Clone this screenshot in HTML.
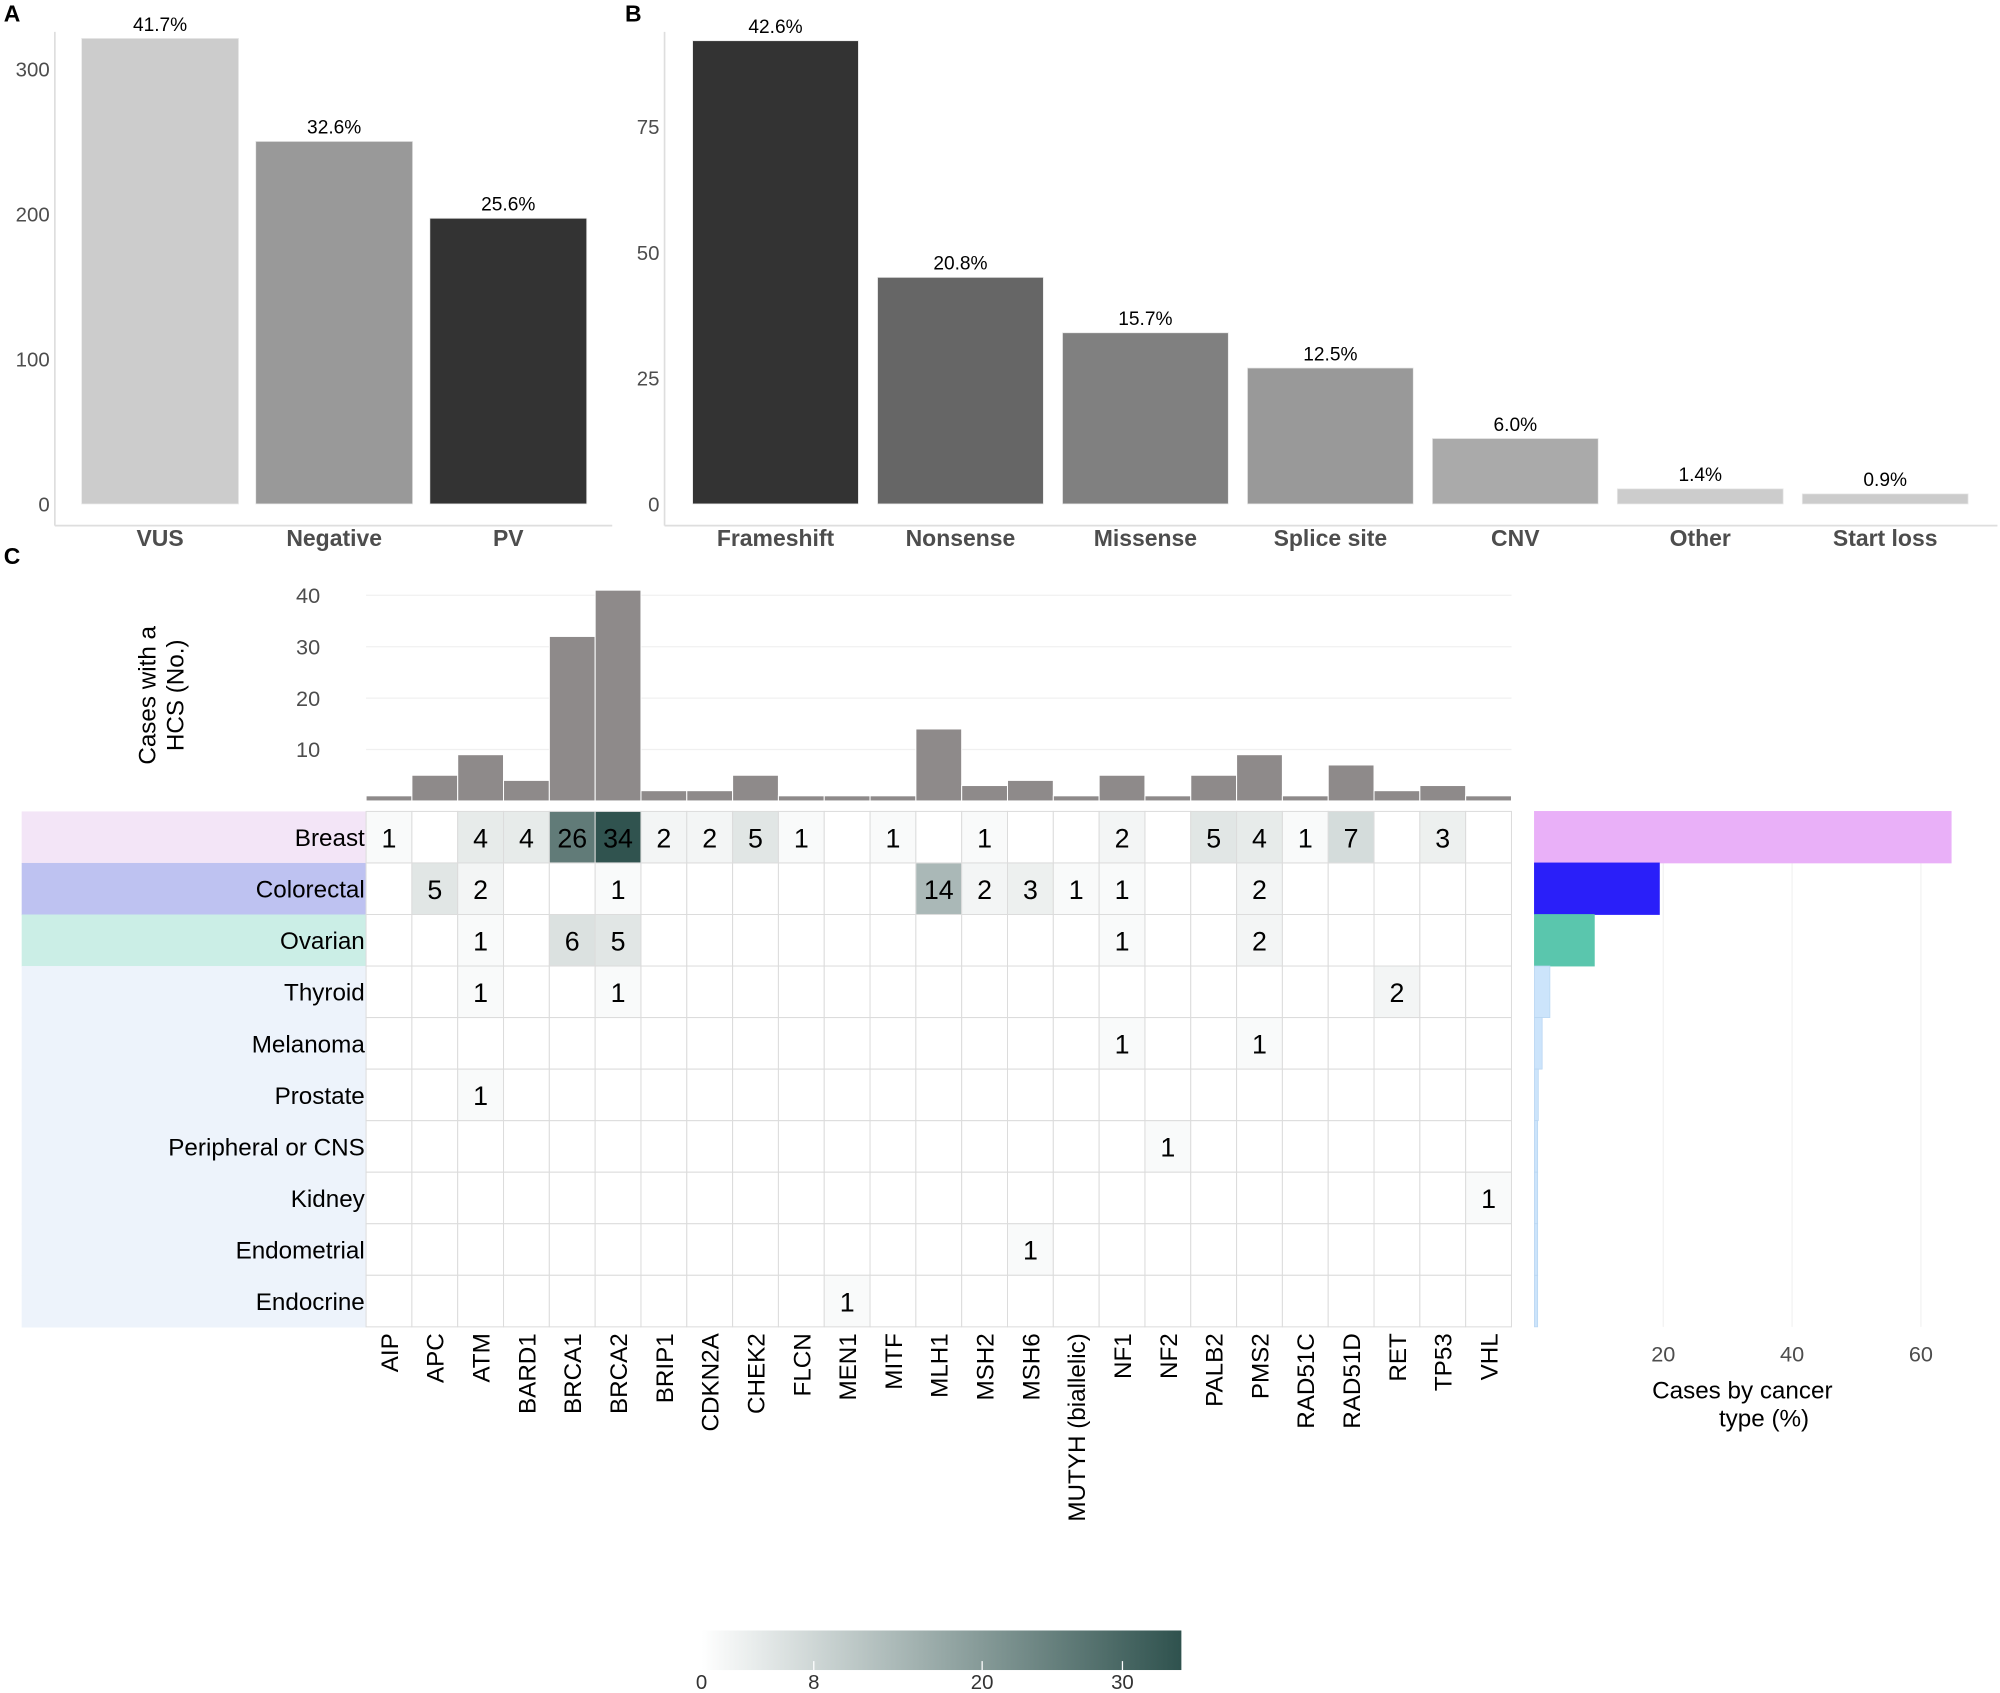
<!DOCTYPE html>
<html><head><meta charset="utf-8">
<style>
html,body{margin:0;padding:0;background:#fff;}
svg{display:block;font-family:"Liberation Sans",Arial,sans-serif;}
</style></head>
<body>
<svg id="fig" width="2000" height="1693" viewBox="0 0 1568 1327" preserveAspectRatio="none" xmlns="http://www.w3.org/2000/svg">
<defs>
<linearGradient id="cgrad" x1="0" x2="1" y1="0" y2="0">
<stop offset="0" stop-color="#ffffff"/><stop offset="1" stop-color="#2f524e"/>
</linearGradient>
</defs>
<g id="root"></g>
</svg>
<script>
// Panel A data
const aCats = ["VUS","Negative","PV"];
const aVals = [321, 250, 197];
const aPct = ["41.7%","32.6%","25.6%"];
const aTicks = [0,100,200,300];
// Panel B data
const bCats = ["Frameshift","Nonsense","Missense","Splice site","CNV","Other","Start loss"];
const bVals = [92, 45, 34, 27, 13, 3, 2];
const bPct = ["42.6%","20.8%","15.7%","12.5%","6.0%","1.4%","0.9%"];
const bTicks = [0,25,50,75];
// Panel C data
const genes = ["AIP","APC","ATM","BARD1","BRCA1","BRCA2","BRIP1","CDKN2A","CHEK2","FLCN","MEN1","MITF","MLH1","MSH2","MSH6","MUTYH (biallelic)","NF1","NF2","PALB2","PMS2","RAD51C","RAD51D","RET","TP53","VHL"];
const geneTotals = [1,5,9,4,32,41,2,2,5,1,1,1,14,3,4,1,5,1,5,9,1,7,2,3,1];
const topTicks = [10,20,30,40];
const cancers = ["Breast","Colorectal","Ovarian","Thyroid","Melanoma","Prostate","Peripheral or CNS","Kidney","Endometrial","Endocrine"];
const cancerPct = [64.7,19.4,9.3,2.4,1.2,0.6,0.5,0.5,0.5,0.5];
const pctTicks = [20,40,60];
const heat = [
 [1,0,4,4,26,34,2,2,5,1,0,1,0,1,0,0,2,0,5,4,1,7,0,3,0],
 [0,5,2,0,0,1,0,0,0,0,0,0,14,2,3,1,1,0,0,2,0,0,0,0,0],
 [0,0,1,0,6,5,0,0,0,0,0,0,0,0,0,0,1,0,0,2,0,0,0,0,0],
 [0,0,1,0,0,1,0,0,0,0,0,0,0,0,0,0,0,0,0,0,0,0,2,0,0],
 [0,0,0,0,0,0,0,0,0,0,0,0,0,0,0,0,1,0,0,1,0,0,0,0,0],
 [0,0,1,0,0,0,0,0,0,0,0,0,0,0,0,0,0,0,0,0,0,0,0,0,0],
 [0,0,0,0,0,0,0,0,0,0,0,0,0,0,0,0,0,1,0,0,0,0,0,0,0],
 [0,0,0,0,0,0,0,0,0,0,0,0,0,0,0,0,0,0,0,0,0,0,0,0,1],
 [0,0,0,0,0,0,0,0,0,0,0,0,0,0,1,0,0,0,0,0,0,0,0,0,0],
 [0,0,0,0,0,0,0,0,0,0,1,0,0,0,0,0,0,0,0,0,0,0,0,0,0]
];
const legendTicks = [0,8,20,30];

const NS="http://www.w3.org/2000/svg";
const root=document.getElementById('root');
function el(tag,attrs,parent,text){const e=document.createElementNS(NS,tag);for(const k in attrs)e.setAttribute(k,attrs[k]);if(text!==undefined)e.textContent=text;(parent||root).appendChild(e);return e;}

let t;
t=el('text',{x:3,y:17,'font-size':18,'font-weight':'bold'},root,'A');

t=el('text',{x:490,y:17,'font-size':18,'font-weight':'bold'},root,'B');

t=el('text',{x:3,y:442,'font-size':18,'font-weight':'bold'},root,'C');


function barPanel(name,cats,vals,pct,ticks,axX,axR,y0,pxPerUnit,firstX,step,bw,colors){
  const g=el('g',{});
  
  const ys=v=>y0-v*pxPerUnit;
  el('line',{x1:axX,y1:y0-370,x2:axX,y2:412,stroke:'#dedede','stroke-width':1.3},g);
  el('line',{x1:axX,y1:412,x2:axR,y2:412,stroke:'#dedede','stroke-width':1.3},g);
  ticks.forEach(v=>{
    const tx=el('text',{x:axX-4,y:ys(v)+6,'font-size':16,'text-anchor':'end',fill:'#4d4d4d'},g,String(v));
    
  });
  cats.forEach((c,i)=>{
    const x=firstX+i*step;
    const r=el('rect',{x:x,y:ys(vals[i]),width:bw,height:vals[i]*pxPerUnit,fill:colors[i],stroke:'#e8e8e8','stroke-width':0.6},g);
    
    const p=el('text',{x:x+bw/2,y:ys(vals[i])-6,'font-size':15,'text-anchor':'middle',fill:'#000'},g,pct[i]);
    
    const l=el('text',{x:x+bw/2,y:428,'font-size':18,'font-weight':'bold','text-anchor':'middle',fill:'#4d4d4d'},g,c);
    
  });
}
barPanel('panel-a-chart',aCats,aVals,aPct,aTicks,43,480,395,341/300,64,136.5,123,['#cccccc','#999999','#333333']);
barPanel('panel-b-chart',bCats,bVals,bPct,bTicks,521,1566,395,296/75,543,145,130,['#333333','#666666','#808080','#999999','#aaaaaa','#cccccc','#cccccc']);

const hx0=287, cw=35.92, hy0=636, rh=40.4;
const colX=i=>hx0+i*cw;
const rowY=j=>hy0+j*rh;
const topY0=627.8, topK=4.03;
const topY=v=>topY0-v*topK;
const gTop=el('g',{});

topTicks.forEach(v=>{
  el('line',{x1:hx0,y1:topY(v),x2:hx0+25*cw,y2:topY(v),stroke:'#f0f0f0','stroke-width':1},gTop);
  const tx=el('text',{x:hx0-36,y:topY(v)+6,'font-size':17,'text-anchor':'end',fill:'#4d4d4d'},gTop,String(v));
  
});
geneTotals.forEach((v,i)=>{
  const r=el('rect',{x:colX(i),y:topY(v),width:cw,height:v*topK,fill:'#8e8a8a',stroke:'#ffffff','stroke-width':0.8},gTop);
  
});
const yt=el('text',{transform:'translate(122,545) rotate(-90)','font-size':19,'text-anchor':'middle',fill:'#000'},gTop);

el('tspan',{x:0,y:0},yt,'Cases with a');
el('tspan',{x:0,y:22},yt,'HCS (No.)');

const rowBg=['#f3e5f7','#bec2f1','#cbeee6','#edf3fb','#edf3fb','#edf3fb','#edf3fb','#edf3fb','#edf3fb','#edf3fb'];
const gH=el('g',{});

cancers.forEach((c,j)=>{
  const r=el('rect',{x:17,y:rowY(j),width:hx0-17,height:rh+0.5,fill:rowBg[j]},gH);
  
  const tx=el('text',{x:hx0-1,y:rowY(j)+rh/2+7,'font-size':19,'text-anchor':'end',fill:'#000'},gH,c);
  
});
function heatColor(v){const f=Math.min(v/34.2,1);const a=[255,255,255],b=[47,82,78];
  const c=a.map((x,k)=>Math.round(x+(b[k]-x)*f));return 'rgb('+c.join(',')+')';}
heat.forEach((row,j)=>{
  row.forEach((v,i)=>{
    const r=el('rect',{x:colX(i),y:rowY(j),width:cw,height:rh,fill:v>0?heatColor(v):'#ffffff',stroke:'#dcdcdc','stroke-width':0.8},gH);
    
    if(v>0){
      const tx=el('text',{x:colX(i)+cw/2,y:rowY(j)+rh/2+8,'font-size':21,'text-anchor':'middle',fill:'#000'},gH,String(v));
      
    }
  });
});
genes.forEach((g,i)=>{
  const x=colX(i)+cw/2+7, y=rowY(10)+5;
  const tx=el('text',{transform:'translate('+x+','+y+') rotate(-90)','font-size':19,'text-anchor':'end',fill:'#000'},gH,g);
  
});

const rx0=1203, rk=5.05;
const rX=v=>rx0+v*rk;
const gR=el('g',{});

pctTicks.forEach(v=>{
  el('line',{x1:rX(v),y1:hy0,x2:rX(v),y2:rowY(10),stroke:'#f2f2f2','stroke-width':1},gR);
  const tx=el('text',{x:rX(v),y:1067,'font-size':17,'text-anchor':'middle',fill:'#4d4d4d'},gR,String(v));
  
});
const rColors=['#e9b0f8','#2a1ff9','#5ac6ad','#cce4fb','#cce4fb','#cce4fb','#cce4fb','#cce4fb','#cce4fb','#cce4fb'];
cancerPct.forEach((v,j)=>{
  const r=el('rect',{x:rx0,y:rowY(j),width:v*rk,height:rh,fill:rColors[j],stroke:j>2?'#b9d6f2':rColors[j],'stroke-width':0.6},gR);
  
});
const rt=el('text',{'font-size':19,'text-anchor':'middle',fill:'#000'},gR);

el('tspan',{x:1366,y:1096},rt,'Cases by cancer');
el('tspan',{x:1383,y:1118},rt,'type (%)');

const lx0=550, lk=11;
const gL=el('g',{});

const lr=el('rect',{x:lx0,y:1278,width:34.2*lk,height:31,fill:'url(#cgrad)'},gL);

legendTicks.forEach(v=>{
  el('line',{x1:lx0+v*lk,y1:1302,x2:lx0+v*lk,y2:1309,stroke:'#ffffff','stroke-width':1},gL);
  const tx=el('text',{x:lx0+v*lk,y:1324,'font-size':16,'text-anchor':'middle',fill:'#333'},gL,String(v));
  
});
</script>
</body></html>
